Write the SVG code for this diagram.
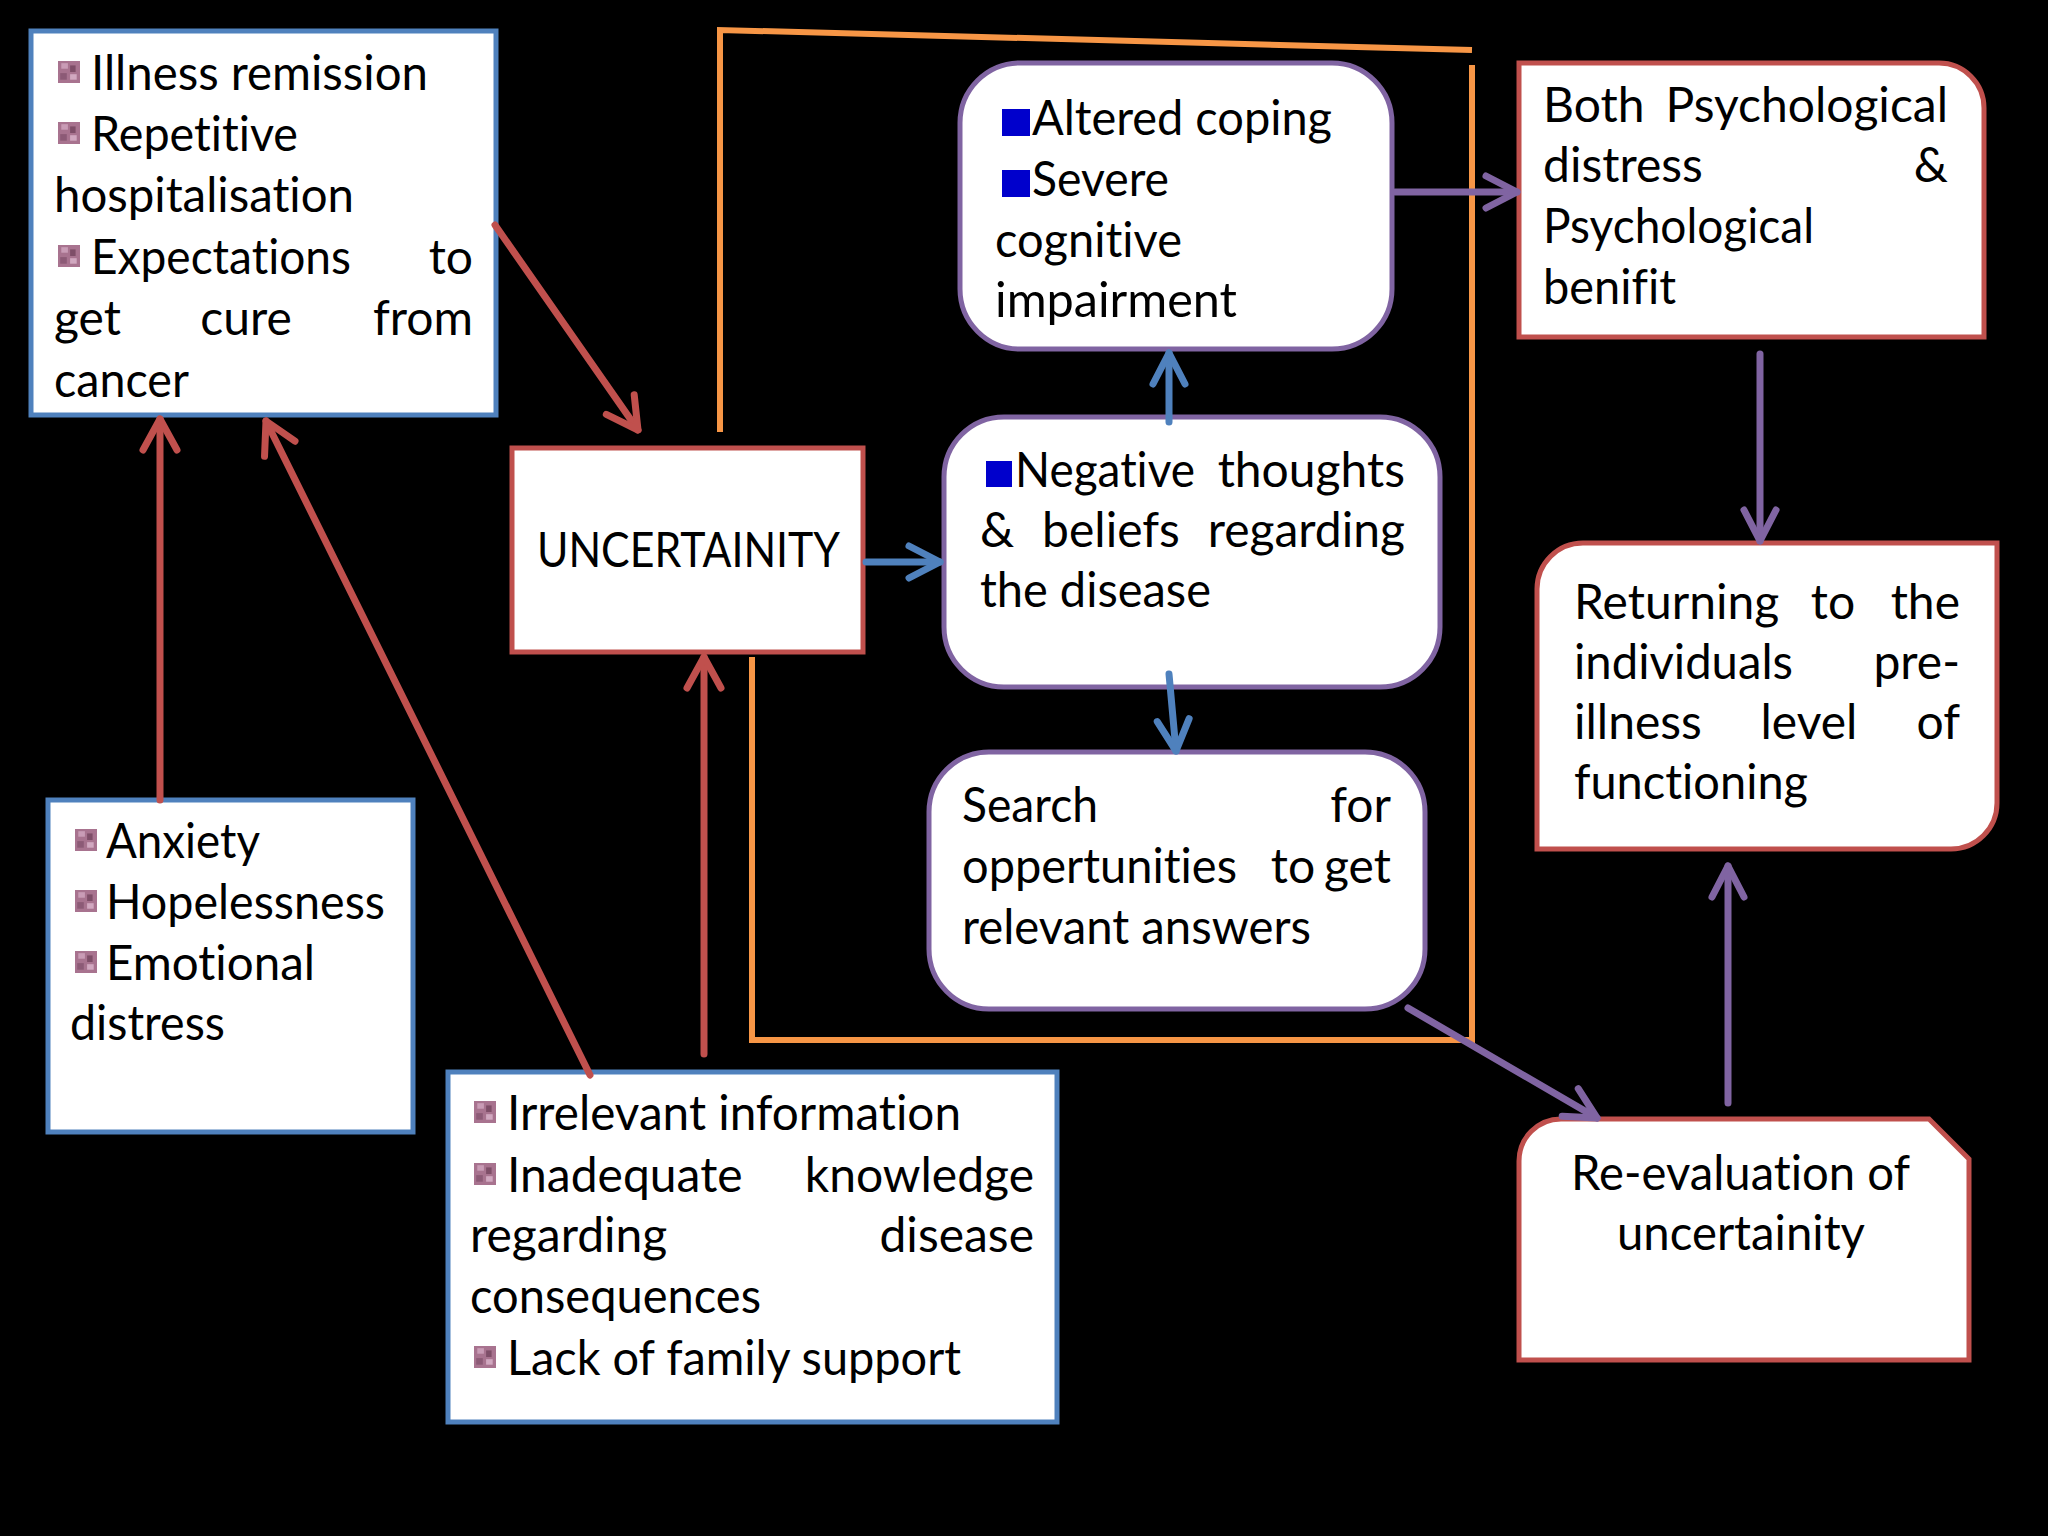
<svg xmlns="http://www.w3.org/2000/svg" width="2048" height="1536" viewBox="0 0 2048 1536">
<style>
.t{font-family:Lato,"Liberation Sans",sans-serif;font-size:48px;fill:#000;font-variant-ligatures:none}
.bx{fill:#fff;stroke-width:5}
.blue{stroke:#4F81BD}
.red{stroke:#C0504D}
.pur{stroke:#8064A2}
.c{fill:none;stroke-width:7;stroke-linecap:round}
.or{fill:none;stroke:#F79646;stroke-width:6}
.e{text-anchor:end}
.m{text-anchor:middle}
</style>
<defs>
<pattern id="bp" patternUnits="objectBoundingBox" patternContentUnits="objectBoundingBox" width="1" height="1">
<rect width="1" height="1" fill="#A8738F"/>
<rect x="0.15" y="0.1" width="0.3" height="0.25" fill="#C99CB6"/>
<rect x="0.55" y="0.2" width="0.25" height="0.3" fill="#7E4E68"/>
<rect x="0.1" y="0.55" width="0.3" height="0.3" fill="#8C5A76"/>
<rect x="0.55" y="0.6" width="0.3" height="0.25" fill="#D1A8C0"/>
</pattern>
<marker id="mr" markerUnits="userSpaceOnUse" viewBox="-40 -25 50 50" refX="0" refY="0" markerWidth="50" markerHeight="50" orient="auto" overflow="visible"><path d="M-31,-17 L0,0 L-31,17" fill="none" stroke="#C0504D" stroke-width="7" stroke-linecap="round" stroke-linejoin="round"/></marker>
<marker id="mb" markerUnits="userSpaceOnUse" viewBox="-40 -25 50 50" refX="0" refY="0" markerWidth="50" markerHeight="50" orient="auto" overflow="visible"><path d="M-31,-16 L0,0 L-31,16" fill="none" stroke="#4F81BD" stroke-width="7" stroke-linecap="round" stroke-linejoin="round"/></marker>
<marker id="mp" markerUnits="userSpaceOnUse" viewBox="-40 -25 50 50" refX="0" refY="0" markerWidth="50" markerHeight="50" orient="auto" overflow="visible"><path d="M-31,-16 L0,0 L-31,16" fill="none" stroke="#8064A2" stroke-width="7" stroke-linecap="round" stroke-linejoin="round"/></marker>
</defs>
<rect width="2048" height="1536" fill="#000"/>

<g id="loop">
<path class="or" d="M720,432 V30 L1472,50"/>
<path class="or" d="M1472,65 V1040 H752 V657"/>
</g>

<g id="node-illness">
<rect class="bx blue" x="31" y="31" width="465" height="384"/>
<rect x="58" y="61" width="22" height="22" fill="url(#bp)"/>
<text class="t" x="91" y="90" textLength="337" lengthAdjust="spacingAndGlyphs">Illness remission</text>
<rect x="58" y="122" width="22" height="22" fill="url(#bp)"/>
<text class="t" x="91" y="151" textLength="207" lengthAdjust="spacingAndGlyphs">Repetitive</text>
<text class="t" x="54" y="212" textLength="300" lengthAdjust="spacingAndGlyphs">hospitalisation</text>
<rect x="58" y="245" width="22" height="22" fill="url(#bp)"/>
<text class="t" x="91" y="274" textLength="260" lengthAdjust="spacingAndGlyphs">Expectations</text>
<text class="t e" x="473" y="274">to</text>
<text class="t" x="54" y="335">get</text>
<text class="t m" x="246" y="335">cure</text>
<text class="t e" x="473" y="335">from</text>
<text class="t" x="54" y="397" textLength="135" lengthAdjust="spacingAndGlyphs">cancer</text>
</g>

<g id="node-uncertainity">
<rect class="bx red" x="512" y="448" width="351" height="204"/>
<text class="t" x="537" y="567" textLength="303" lengthAdjust="spacingAndGlyphs">UNCERTAINITY</text>
</g>

<g id="node-altered">
<rect class="bx pur" x="960" y="63" width="432" height="286" rx="60" ry="60"/>
<rect x="1002" y="109" width="28" height="27" fill="#0000CC"/>
<text class="t" x="1032" y="135" textLength="300" lengthAdjust="spacingAndGlyphs">Altered coping</text>
<rect x="1002" y="170" width="28" height="27" fill="#0000CC"/>
<text class="t" x="1032" y="196" textLength="137" lengthAdjust="spacingAndGlyphs">Severe</text>
<text class="t" x="995" y="257" textLength="187" lengthAdjust="spacingAndGlyphs">cognitive</text>
<text class="t" x="995" y="317" textLength="242" lengthAdjust="spacingAndGlyphs">impairment</text>
</g>

<g id="node-negative">
<rect class="bx pur" x="944" y="417" width="496" height="270" rx="60" ry="60"/>
<rect x="986" y="461" width="26" height="26" fill="#0000CC"/>
<text class="t" x="1015" y="487" textLength="180" lengthAdjust="spacingAndGlyphs">Negative</text>
<text class="t e" x="1405" y="487">thoughts</text>
<text class="t" x="980" y="547">&amp;</text>
<text class="t m" x="1111" y="547">beliefs</text>
<text class="t e" x="1405" y="547">regarding</text>
<text class="t" x="980" y="607" textLength="231" lengthAdjust="spacingAndGlyphs">the disease</text>
</g>

<g id="node-search">
<rect class="bx pur" x="929" y="752" width="496" height="257" rx="60" ry="60"/>
<text class="t" x="962" y="822" textLength="136" lengthAdjust="spacingAndGlyphs">Search</text>
<text class="t e" x="1391" y="822">for</text>
<text class="t" x="962" y="883" textLength="275" lengthAdjust="spacingAndGlyphs">oppertunities</text>
<text class="t m" x="1293" y="883">to</text>
<text class="t e" x="1391" y="883">get</text>
<text class="t" x="962" y="944" textLength="349" lengthAdjust="spacingAndGlyphs">relevant answers</text>
</g>

<g id="node-both">
<path class="bx red" d="M1519,63 H1939 A45,45 0 0 1 1984,108 V337 H1519 Z"/>
<text class="t" x="1543" y="122">Both</text>
<text class="t e" x="1948" y="122">Psychological</text>
<text class="t" x="1543" y="182">distress</text>
<text class="t e" x="1948" y="182">&amp;</text>
<text class="t" x="1543" y="243" textLength="271" lengthAdjust="spacingAndGlyphs">Psychological</text>
<text class="t" x="1543" y="304" textLength="133" lengthAdjust="spacingAndGlyphs">benifit</text>
</g>

<g id="node-returning">
<path class="bx red" d="M1583,543 H1997 V803 A46,46 0 0 1 1951,849 H1537 V589 A46,46 0 0 1 1583,543 Z"/>
<text class="t" x="1574" y="619">Returning</text>
<text class="t m" x="1833" y="619">to</text>
<text class="t e" x="1960" y="619">the</text>
<text class="t" x="1574" y="679" textLength="219" lengthAdjust="spacingAndGlyphs">individuals</text>
<text class="t e" x="1960" y="679">pre-</text>
<text class="t" x="1574" y="739">illness</text>
<text class="t m" x="1809" y="739">level</text>
<text class="t e" x="1960" y="739">of</text>
<text class="t" x="1574" y="799" textLength="234" lengthAdjust="spacingAndGlyphs">functioning</text>
</g>

<g id="node-reevaluation">
<path class="bx red" d="M1561,1119 H1929 L1969,1159 V1360 H1519 V1161 A42,42 0 0 1 1561,1119 Z"/>
<text class="t" x="1571" y="1190" textLength="339" lengthAdjust="spacingAndGlyphs">Re-evaluation of</text>
<text class="t" x="1617" y="1250" textLength="248" lengthAdjust="spacingAndGlyphs">uncertainity</text>
</g>

<g id="node-anxiety">
<rect class="bx blue" x="48" y="800" width="365" height="332"/>
<rect x="75" y="829" width="22" height="22" fill="url(#bp)"/>
<text class="t" x="106" y="858" textLength="154" lengthAdjust="spacingAndGlyphs">Anxiety</text>
<rect x="75" y="890" width="22" height="22" fill="url(#bp)"/>
<text class="t" x="106" y="919" textLength="279" lengthAdjust="spacingAndGlyphs">Hopelessness</text>
<rect x="75" y="951" width="22" height="22" fill="url(#bp)"/>
<text class="t" x="106" y="980" textLength="209" lengthAdjust="spacingAndGlyphs">Emotional</text>
<text class="t" x="70" y="1040" textLength="155" lengthAdjust="spacingAndGlyphs">distress</text>
</g>

<g id="node-irrelevant">
<rect class="bx blue" x="448" y="1072" width="609" height="350"/>
<rect x="474" y="1101" width="22" height="22" fill="url(#bp)"/>
<text class="t" x="507" y="1130" textLength="454" lengthAdjust="spacingAndGlyphs">Irrelevant information</text>
<rect x="474" y="1163" width="22" height="22" fill="url(#bp)"/>
<text class="t" x="507" y="1192">Inadequate</text>
<text class="t e" x="1034" y="1192">knowledge</text>
<text class="t" x="470" y="1252">regarding</text>
<text class="t e" x="1034" y="1252">disease</text>
<text class="t" x="470" y="1313" textLength="291" lengthAdjust="spacingAndGlyphs">consequences</text>
<rect x="474" y="1346" width="22" height="22" fill="url(#bp)"/>
<text class="t" x="507" y="1375" textLength="454" lengthAdjust="spacingAndGlyphs">Lack of family support</text>
</g>

<g id="connectors">
<line class="c red" x1="495" y1="225" x2="638" y2="430" marker-end="url(#mr)"/>
<line class="c red" x1="160" y1="800" x2="160" y2="419" marker-end="url(#mr)"/>
<line class="c red" x1="590" y1="1075" x2="266" y2="421" marker-end="url(#mr)"/>
<line class="c red" x1="704" y1="1054" x2="704" y2="657" marker-end="url(#mr)"/>
<line class="c blue" x1="866" y1="562" x2="940" y2="562" marker-end="url(#mb)"/>
<line class="c blue" x1="1169" y1="422" x2="1169" y2="353" marker-end="url(#mb)"/>
<line class="c blue" x1="1169" y1="674" x2="1176" y2="751" marker-end="url(#mb)"/>
<line class="c pur" x1="1395" y1="192" x2="1517" y2="192" marker-end="url(#mp)"/>
<line class="c pur" x1="1760" y1="354" x2="1760" y2="541" marker-end="url(#mp)"/>
<line class="c pur" x1="1408" y1="1008" x2="1597" y2="1118" marker-end="url(#mp)"/>
<line class="c pur" x1="1728" y1="1103" x2="1728" y2="866" marker-end="url(#mp)"/>
</g>
</svg>
